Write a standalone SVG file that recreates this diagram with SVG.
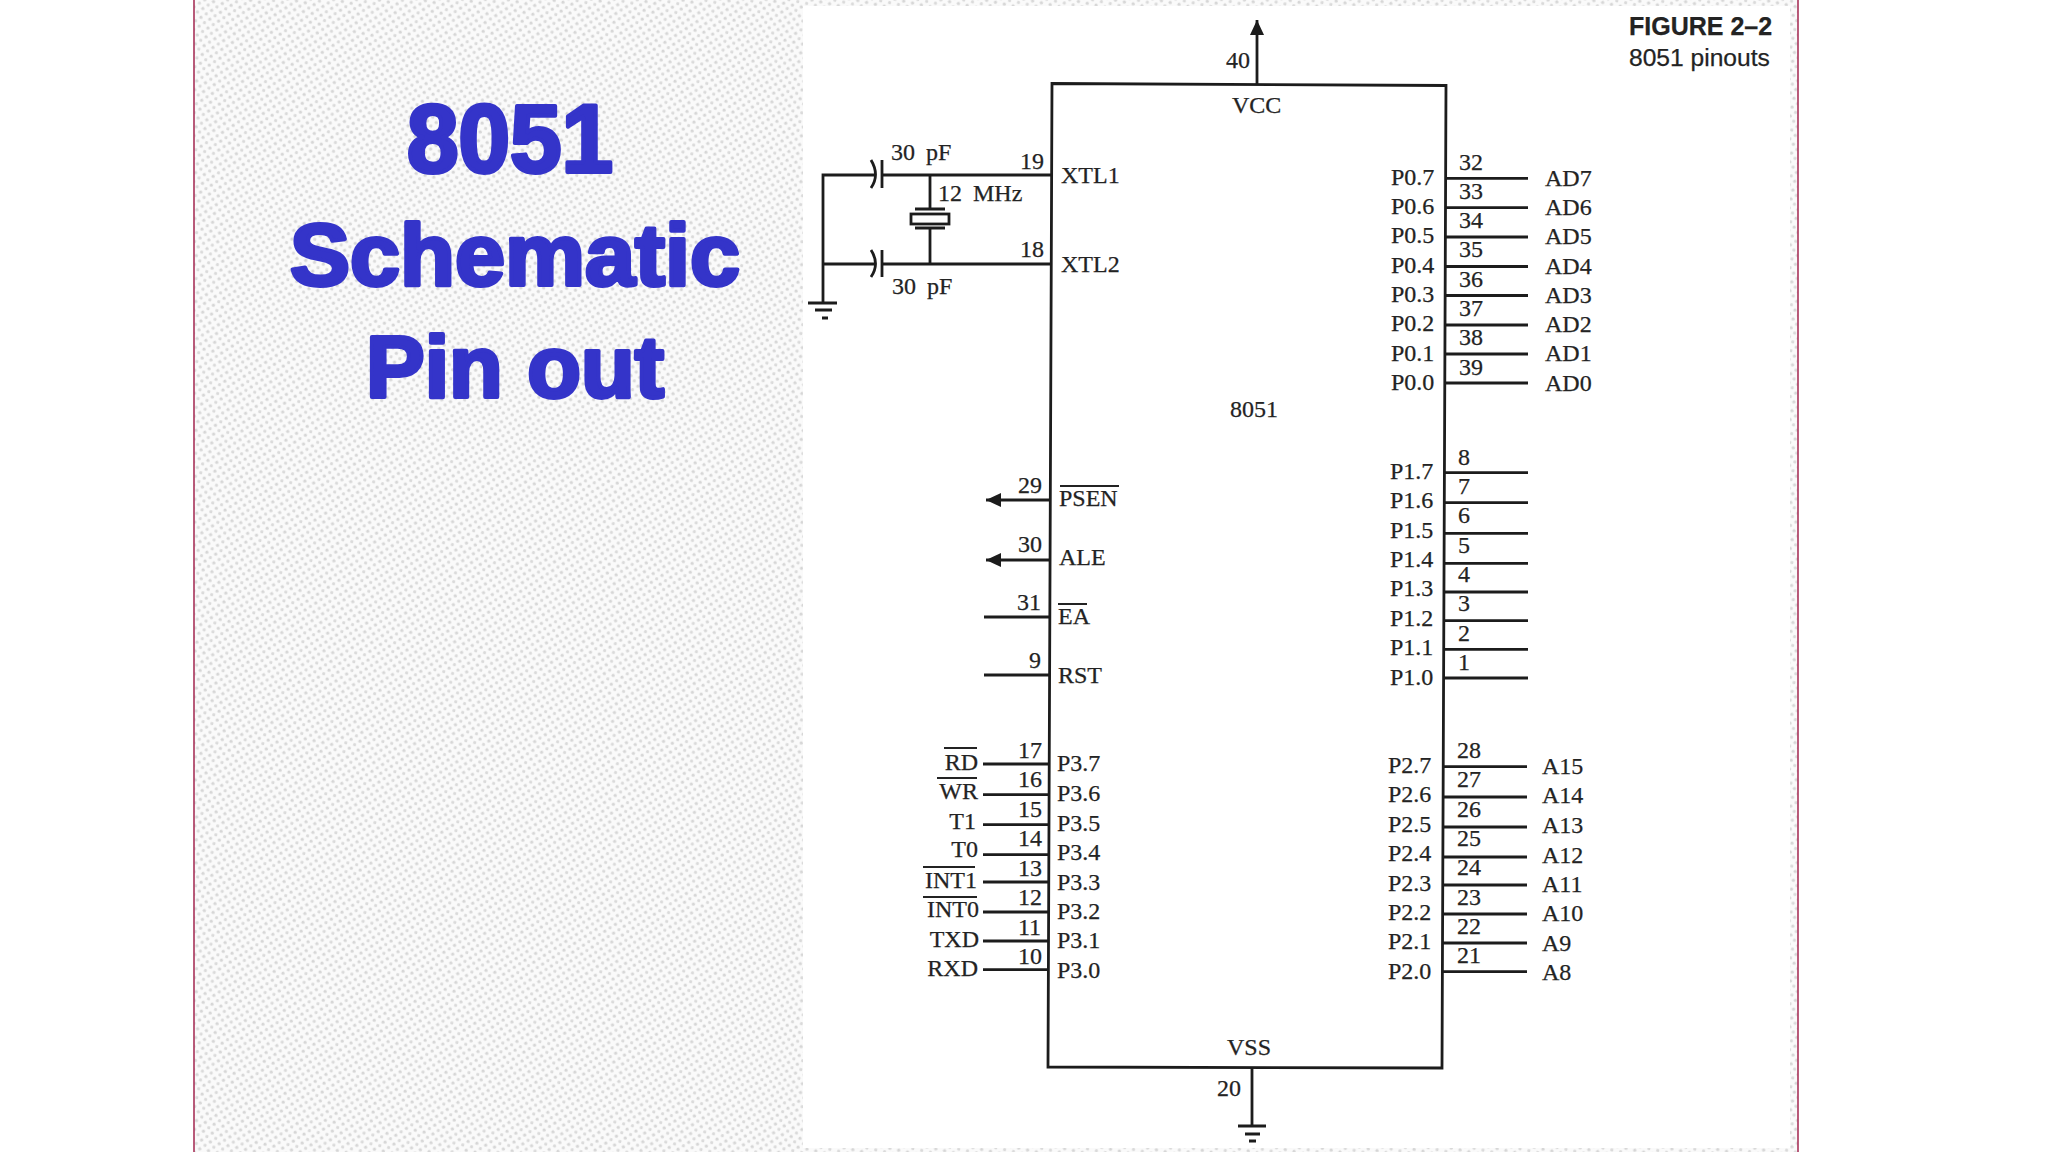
<svg xmlns="http://www.w3.org/2000/svg" width="2048" height="1152" viewBox="0 0 2048 1152">
<style>
text{font-family:"Liberation Serif","Times New Roman",serif;font-size:24px;fill:#232323;stroke:#232323;stroke-width:.25px}
.e{text-anchor:end}
.c{text-anchor:middle}
.sp{word-spacing:5px}
.sans{font-family:"Liberation Sans",Arial,sans-serif}
.title{font-family:"Liberation Sans",Arial,sans-serif;font-weight:700;fill:#3434c9;stroke:#3434c9;stroke-width:4px;stroke-linejoin:round}
.w{fill:none;stroke:#1c1c1c;stroke-width:2.8}
.o{fill:none;stroke:#232323;stroke-width:2.2}
</style>
<defs>
<pattern id="stipple" width="9" height="9" patternUnits="userSpaceOnUse" patternTransform="rotate(12)">
<rect width="9" height="9" fill="#fafafa"/>
<circle cx="2.2" cy="2.2" r="1.6" fill="#d6d6d6"/>
<circle cx="6.7" cy="6.7" r="1.6" fill="#dadada"/>
</pattern>
<marker id="arrow" markerUnits="userSpaceOnUse" markerWidth="18" markerHeight="16" refX="15" refY="7" orient="auto">
<path d="M0 0L15 7L0 14Z" fill="#1c1c1c"/>
</marker>
</defs>
<rect width="2048" height="1152" fill="#fff"/>
<rect x="194" y="0" width="1604" height="1152" fill="url(#stipple)"/>
<rect x="803" y="6" width="987" height="1142" fill="#fff"/>
<path d="M194 0V1152M1798 0V1152" fill="none" stroke="#a8345a" stroke-width="1.6"/>

<g id="title">
<text class="title" x="407" y="172" style="font-size:96px" textLength="206" lengthAdjust="spacingAndGlyphs">8051</text>
<text class="title" x="290" y="285" style="font-size:88px" textLength="450" lengthAdjust="spacingAndGlyphs">Schematic</text>
<text class="title" x="366" y="397" style="font-size:88px" textLength="298" lengthAdjust="spacingAndGlyphs">Pin out</text>
</g>

<g id="caption">
<text class="sans" x="1629" y="35" style="font-weight:700;font-size:25px">FIGURE 2–2</text>
<text class="sans" x="1629" y="66" style="font-size:24.6px">8051 pinouts</text>
</g>

<g id="connectors" class="w">
<path d="M1257 84V20" marker-end="url(#arrow)"/>
<path d="M1252 1067V1126M1238 1126H1266M1245 1134H1260M1249 1141H1256"/>
<path d="M1052 175H882M875 175H823V303M808 303H837M815 310H832M822 318H828"/>
<path d="M1051 264H882M875 264H823"/>
<path d="M871 160Q880 175 871 188M882 160V188M871 250Q880 264 871 277M882 250V277"/>
<path d="M930 175V209M915 209H945M915 228H945M930 228V264"/>
<rect x="911" y="214" width="38" height="10"/>
<path d="M1050 500H986" marker-end="url(#arrow)"/>
<path d="M1050 560H986" marker-end="url(#arrow)"/>
<path d="M1049 617H984M1049 675H984"/>
<path d="M1048 764H983M1048 794.6H983M1048 824.6H983M1048 854.6H983M1048 882H983M1048 912H983M1048 941H983M1048 969.6H983"/>
<path d="M1446 178.3H1528M1446 207.7H1528M1446 237H1528M1446 266.5H1528M1446 295.5H1528M1446 325H1528M1446 354H1528M1446 383H1528"/>
<path d="M1444 472.7H1528M1444 502.7H1528M1444 533.3H1528M1444 563.3H1528M1444 592H1528M1444 620.7H1528M1444 649.3H1528M1444 678H1528"/>
<path d="M1443 766.7H1527M1443 797H1527M1443 827H1527M1443 857H1527M1443 885H1527M1443 914H1527M1443 943H1527M1443 971.7H1527"/>
</g>

<g id="chip">
<path class="w" d="M1052 83.5L1446 85.5L1442 1068L1048 1067Z"/>
<text x="1232" y="113">VCC</text>
<text x="1227" y="1055">VSS</text>
<text class="c" x="1254" y="417">8051</text>
<text x="1226" y="68">40</text>
<text x="1217" y="1096">20</text>
</g>

<g id="oscillator">
<text class="sp" x="891" y="160">30 pF</text>
<text class="sp" x="938" y="201">12 MHz</text>
<text class="sp" x="892" y="294">30 pF</text>
<text x="1020" y="169">19</text>
<text x="1020" y="257">18</text>
<text x="1061" y="183">XTL1</text>
<text x="1061" y="272">XTL2</text>
</g>

<g id="control-pins">
<text class="e" x="1042" y="493">29</text>
<text class="e" x="1042" y="552">30</text>
<text class="e" x="1041" y="610">31</text>
<text class="e" x="1041" y="668">9</text>
<text x="1059" y="506">PSEN</text>
<text x="1059" y="565">ALE</text>
<text x="1058" y="624">EA</text>
<text x="1058" y="683">RST</text>
<path class="o" d="M1060 486H1119M1058 604H1087"/>
</g>

<g id="port0">
<text x="1391" y="185">P0.7</text><text x="1391" y="214">P0.6</text><text x="1391" y="243">P0.5</text><text x="1391" y="273">P0.4</text><text x="1391" y="302">P0.3</text><text x="1391" y="331">P0.2</text><text x="1391" y="361">P0.1</text><text x="1391" y="390">P0.0</text>
<text x="1459" y="170">32</text><text x="1459" y="199">33</text><text x="1459" y="228">34</text><text x="1459" y="257">35</text><text x="1459" y="287">36</text><text x="1459" y="316">37</text><text x="1459" y="345">38</text><text x="1459" y="375">39</text>
<text x="1545" y="186">AD7</text><text x="1545" y="215">AD6</text><text x="1545" y="244">AD5</text><text x="1545" y="274">AD4</text><text x="1545" y="303">AD3</text><text x="1545" y="332">AD2</text><text x="1545" y="361">AD1</text><text x="1545" y="391">AD0</text>
</g>

<g id="port1">
<text x="1390" y="479">P1.7</text><text x="1390" y="508">P1.6</text><text x="1390" y="538">P1.5</text><text x="1390" y="567">P1.4</text><text x="1390" y="596">P1.3</text><text x="1390" y="626">P1.2</text><text x="1390" y="655">P1.1</text><text x="1390" y="685">P1.0</text>
<text x="1458" y="465">8</text><text x="1458" y="494">7</text><text x="1458" y="523">6</text><text x="1458" y="553">5</text><text x="1458" y="582">4</text><text x="1458" y="611">3</text><text x="1458" y="641">2</text><text x="1458" y="670">1</text>
</g>

<g id="port2">
<text x="1388" y="773">P2.7</text><text x="1388" y="802">P2.6</text><text x="1388" y="832">P2.5</text><text x="1388" y="861">P2.4</text><text x="1388" y="891">P2.3</text><text x="1388" y="920">P2.2</text><text x="1388" y="949">P2.1</text><text x="1388" y="979">P2.0</text>
<text x="1457" y="758">28</text><text x="1457" y="787">27</text><text x="1457" y="817">26</text><text x="1457" y="846">25</text><text x="1457" y="875">24</text><text x="1457" y="905">23</text><text x="1457" y="934">22</text><text x="1457" y="963">21</text>
<text x="1542" y="774">A15</text><text x="1542" y="803">A14</text><text x="1542" y="833">A13</text><text x="1542" y="863">A12</text><text x="1542" y="892">A11</text><text x="1542" y="921">A10</text><text x="1542" y="951">A9</text><text x="1542" y="980">A8</text>
</g>

<g id="port3">
<text x="1057" y="771">P3.7</text><text x="1057" y="801">P3.6</text><text x="1057" y="831">P3.5</text><text x="1057" y="860">P3.4</text><text x="1057" y="890">P3.3</text><text x="1057" y="919">P3.2</text><text x="1057" y="948">P3.1</text><text x="1057" y="978">P3.0</text>
<text x="1018" y="758">17</text><text x="1018" y="787">16</text><text x="1018" y="817">15</text><text x="1018" y="846">14</text><text x="1018" y="876">13</text><text x="1018" y="905">12</text><text x="1018" y="935">11</text><text x="1018" y="964">10</text>
<text class="e" x="978" y="770">RD</text><text class="e" x="978" y="799">WR</text><text class="e" x="976" y="829">T1</text><text class="e" x="978" y="857">T0</text><text class="e" x="977" y="888">INT1</text><text class="e" x="979" y="917">INT0</text><text class="e" x="979" y="947">TXD</text><text class="e" x="978" y="976">RXD</text>
<path class="o" d="M944 748H977M937 778H977M923 867H975M923 897H977"/>
</g>
</svg>
